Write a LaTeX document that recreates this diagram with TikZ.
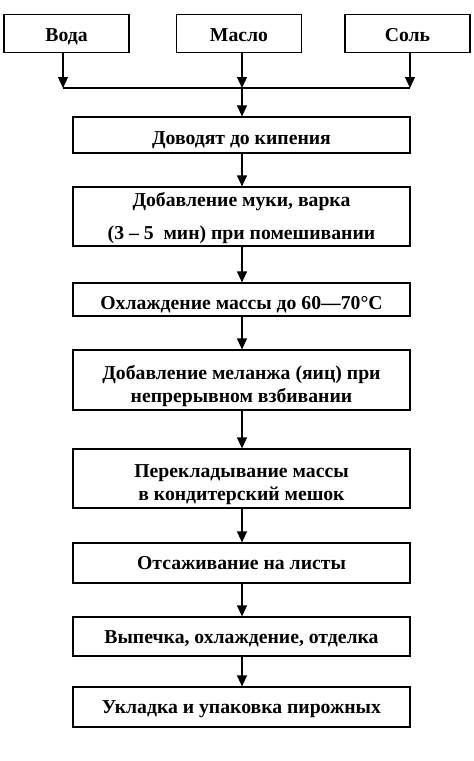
\documentclass[tikz,border=0pt]{standalone}
\usepackage{fontspec}
\setmainfont{Liberation Serif}
\usetikzlibrary{arrows.meta}
\begin{document}
\begin{tikzpicture}[x=1pt,y=1pt,
  box/.style={draw,line width=1.2pt,minimum width=337pt,align=center,inner sep=0pt,
    font=\fontsize{19.7}{23}\selectfont\bfseries},
  one/.style={text height=17pt,text depth=4pt},
  low/.style={text height=21pt,text depth=2pt},
  topbox/.style={draw,line width=1.2pt,minimum width=125pt,minimum height=38pt,inner sep=0pt,
    text height=18pt,text depth=2pt,font=\fontsize{19.7}{23}\selectfont\bfseries},
  arr/.style={line width=1.2pt,-{Triangle[length=11pt,width=10pt]}},
  ln/.style={line width=1.2pt}]
\useasboundingbox (0,0) rectangle (474,-761);
\node[topbox] (voda) at (66.5,-33.5) {Вода};
\node[topbox] (maslo) at (239,-33.5) {Масло};
\node[topbox] (sol) at (407.5,-33.5) {Соль};
\coordinate (j1) at (63,-88);
\coordinate (j2) at (242,-88);
\coordinate (j3) at (410,-88);
\node[box,low,minimum height=36pt] (b1) at (241.5,-135) {Доводят до кипения};
\node[box,minimum height=59pt,font=\fontsize{19.7}{33}\selectfont\bfseries] (b2) at (241.5,-216.5) {\rule{0pt}{18pt}Добавление муки, варка\\(3 – 5~ мин) при помешивании};
\node[box,low,minimum height=33pt] (b3) at (241.5,-299.5) {Охлаждение массы до 60—70°С};
\node[box,minimum height=60pt] (b4) at (241.5,-380) {\rule{0pt}{26pt}Добавление меланжа (яиц) при\\непрерывном взбивании};
\node[box,minimum height=59pt] (b5) at (241.5,-478.5) {\rule{0pt}{25pt}Перекладывание массы\\в кондитерский мешок};
\node[box,one,minimum height=40pt] (b6) at (241.5,-563) {Отсаживание на листы};
\node[box,one,minimum height=39pt] (b7) at (241.5,-636.5) {Выпечка, охлаждение, отделка};
\node[box,one,minimum height=40pt] (b8) at (241.5,-707) {Укладка и упаковка пирожных};
\draw[arr] (voda.south -| j1) -- (j1);
\draw[arr] (maslo.south -| j2) -- (j2);
\draw[arr] (sol.south -| j3) -- (j3);
\draw[ln] (j1) -- (j3);
\draw[arr] (j2) -- (b1.north -| j2);
\draw[arr] (b1.south -| j2) -- (b2.north -| j2);
\draw[arr] (b2.south -| j2) -- (b3.north -| j2);
\draw[arr] (b3.south -| j2) -- (b4.north -| j2);
\draw[arr] (b4.south -| j2) -- (b5.north -| j2);
\draw[arr] (b5.south -| j2) -- (b6.north -| j2);
\draw[arr] (b6.south -| j2) -- (b7.north -| j2);
\draw[arr] (b7.south -| j2) -- (b8.north -| j2);
\end{tikzpicture}
\end{document}
